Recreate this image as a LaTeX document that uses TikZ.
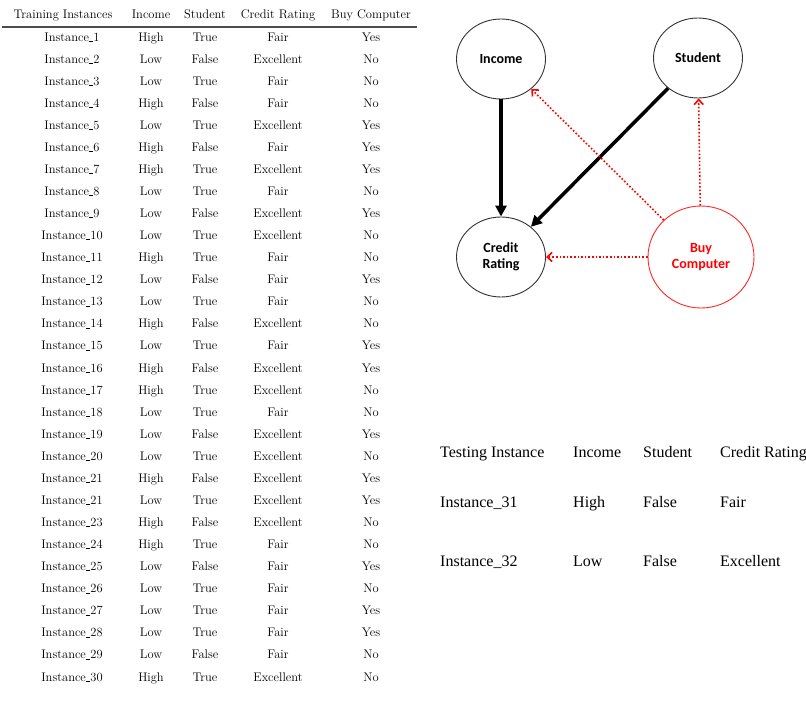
\documentclass[tikz,border=0pt]{standalone}
\usepackage{fontspec}
\newfontfamily\carl{Carlito}
\newfontfamily\tms{Liberation Serif}
\newfontfamily\lmr{Latin Modern Roman}
\usetikzlibrary{arrows.meta,shapes.geometric}
\newcommand{\us}{\rule[-0.2pt]{4.5pt}{0.45pt}}
\begin{document}
\begin{tikzpicture}[x=1pt,y=-1pt,
  cell/.style={font=\lmr\fontsize{12.5}{14}\selectfont,anchor=base,inner sep=0pt},
  tcell/.style={font=\tms\fontsize{16}{18}\selectfont,anchor=base west,inner sep=0pt},
  var/.style={draw=black!80,line width=0.9pt,ellipse,minimum width=89pt,minimum height=80pt,font=\carl\bfseries\fontsize{14}{16}\selectfont,align=center},
  cls/.style={draw=red!85,line width=0.9pt,ellipse,minimum width=106pt,minimum height=102pt,text=red,font=\carl\bfseries\fontsize{14}{16}\selectfont,align=center},
  strong/.style={line width=3.5pt,-{Triangle[length=11pt,width=11pt]}},
  weak/.style={red,line width=1.6pt,dotted,-{Straight Barb[length=5pt,width=9pt]}}]
\useasboundingbox (0,0) rectangle (806,704);
% training table
\draw[line width=1.3pt,black!70] (2,27) -- (417,27);
\foreach \t/\x in {Training Instances/63,Income/151,Student/205,Credit Rating/278,Buy Computer/371}
  \node[cell] at (\x,19) {\t};
\foreach[count=\i] \a/\b/\c/\d/\e in {
1/High/True/Fair/Yes,
2/Low/False/Excellent/No,
3/Low/True/Fair/No,
4/High/False/Fair/No,
5/Low/True/Excellent/Yes,
6/High/False/Fair/Yes,
7/High/True/Excellent/Yes,
8/Low/True/Fair/No,
9/Low/False/Excellent/Yes,
10/Low/True/Excellent/No,
11/High/True/Fair/No,
12/Low/False/Fair/Yes,
13/Low/True/Fair/No,
14/High/False/Excellent/No,
15/Low/True/Fair/Yes,
16/High/False/Excellent/Yes,
17/High/True/Excellent/No,
18/Low/True/Fair/No,
19/Low/False/Excellent/Yes,
20/Low/True/Excellent/No,
21/High/False/Excellent/Yes,
21/Low/True/Excellent/Yes,
23/High/False/Excellent/No,
24/High/True/Fair/No,
25/Low/False/Fair/Yes,
26/Low/True/Fair/No,
27/Low/True/Fair/Yes,
28/Low/True/Fair/Yes,
29/Low/False/Fair/No,
30/High/True/Excellent/No}{
  \pgfmathsetmacro\yy{41+22.07*(\i-1)}
  \node[cell] at (72,\yy) {Instance\us\a};
  \node[cell] at (151,\yy) {\b};
  \node[cell] at (205,\yy) {\c};
  \node[cell] at (278,\yy) {\d};
  \node[cell] at (371,\yy) {\e};
}
% graph
\node[var] (inc) at (501,59) {Income};
\node[var] (stu) at (698,58) {Student};
\node[var] (cr) at (501,257) {Credit\\Rating};
\node[cls] (bc) at (701,257) {Buy\\Computer};
\draw[strong] (inc) -- (cr);
\draw[strong] (stu) -- (cr);
\draw[weak] (bc) -- (inc);
\draw[weak] (bc) -- (stu);
\draw[weak] (bc) -- (cr);
% testing table
\node[tcell] (h1) at (440,457) {Testing Instance};
\node[tcell] (h2) at (573,457) {Income};
\node[tcell] (h3) at (643,457) {Student};
\node[tcell] (h4) at (720,457) {Credit Rating};
\node[tcell] (r1) at (440,507) {Instance\_31};
\node[tcell] (r2) at (573,507) {High};
\node[tcell] (r3) at (643,507) {False};
\node[tcell] (r4) at (720,507) {Fair};
\node[tcell] (s1) at (440,566) {Instance\_32};
\node[tcell] (s2) at (573,566) {Low};
\node[tcell] (s3) at (643,566) {False};
\node[tcell] (s4) at (720,566) {Excellent};
\end{tikzpicture}
\end{document}
